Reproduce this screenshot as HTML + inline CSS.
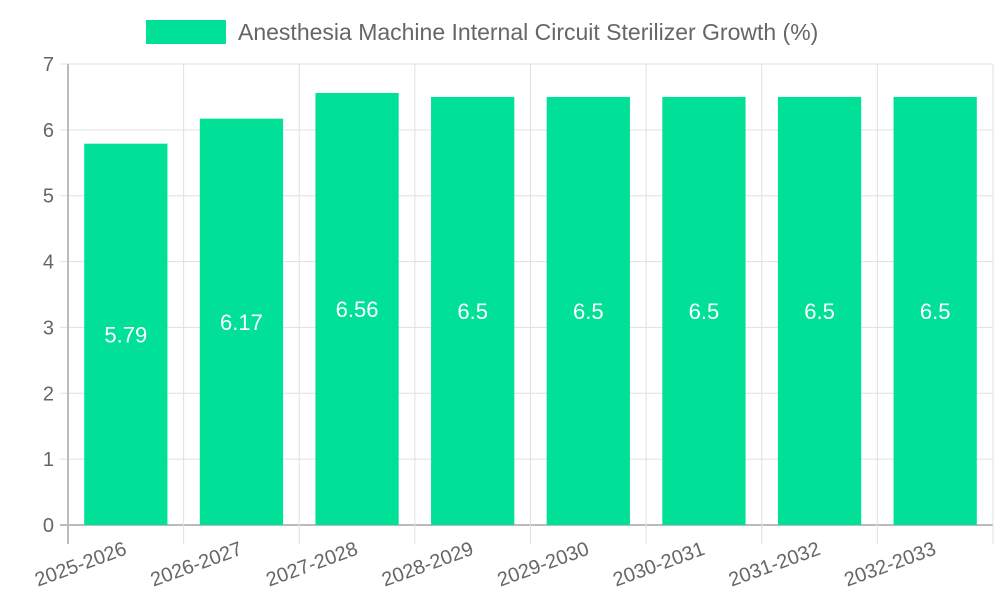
<!DOCTYPE html>
<html><head><meta charset="utf-8"><style>
html,body{margin:0;padding:0;background:#fff;}
svg{display:block;font-family:"Liberation Sans",sans-serif;}
</style></head><body>
<svg id="chart" width="1000" height="600">
<g>
<rect x="146" y="20" width="80" height="24" fill="#00e096"></rect>
<text x="238" y="40" font-size="23" fill="#666">Anesthesia Machine Internal Circuit Sterilizer Growth (%)</text>
</g>
</svg>
<script>
const categories=["2025-2026","2026-2027","2027-2028","2028-2029","2029-2030","2030-2031","2031-2032","2032-2033"];
const values=[5.79,6.17,6.56,6.5,6.5,6.5,6.5,6.5];
const valueLabels=["5.79","6.17","6.56","6.5","6.5","6.5","6.5","6.5"];
const yTicks=[0,1,2,3,4,5,6,7];
const svg=document.getElementById('chart');
const NS='http://www.w3.org/2000/svg';
const L=68,R=993,T=64,B=525,yMax=7;
const step=(R-L)/categories.length;
const y=v=>B-(v/yMax)*(B-T);
const xc=i=>L+step*(i+0.5);
function mk(tag,attrs,parent){const e=document.createElementNS(NS,tag);for(const k in attrs)e.setAttribute(k,attrs[k]);(parent||svg).appendChild(e);return e;}
const grid=mk('g',{});


yTicks.forEach(t=>{
  const l=mk('line',{x1:L-8,x2:R,y1:y(t),y2:y(t),stroke:t===0?'#bbb':'#e0e0e0','stroke-width':t===0?2:1},grid);
  
  
  const tx=mk('text',{x:L-14,y:y(t)+7,'text-anchor':'end','font-size':20,fill:'#666'});
  tx.textContent=t;
  
  
});
for(let i=0;i<=categories.length;i++){
  const x=L+step*i;
  const l=mk('line',{x1:x,x2:x,y1:T,y2:B+19,stroke:i===0?'#bbb':'#e0e0e0','stroke-width':i===0?2:1},grid);
  
  
}
categories.forEach((c,i)=>{
  const bw=step*0.72;
  const r=mk('rect',{x:xc(i)-bw/2,y:y(values[i]),width:bw,height:B-y(values[i]),fill:'#00e096'});
  
  
  const vt=mk('text',{x:xc(i),y:(y(values[i])+B)/2+8,'text-anchor':'middle','font-size':22,fill:'#fff'});
  vt.textContent=valueLabels[i];
  
  
  const xt=mk('text',{x:0,y:0,'text-anchor':'end','font-size':20,fill:'#666',transform:`translate(${xc(i)+2},${B+29}) rotate(-20)`});
  xt.textContent=c;
  
  
});
</script>
</body></html>
